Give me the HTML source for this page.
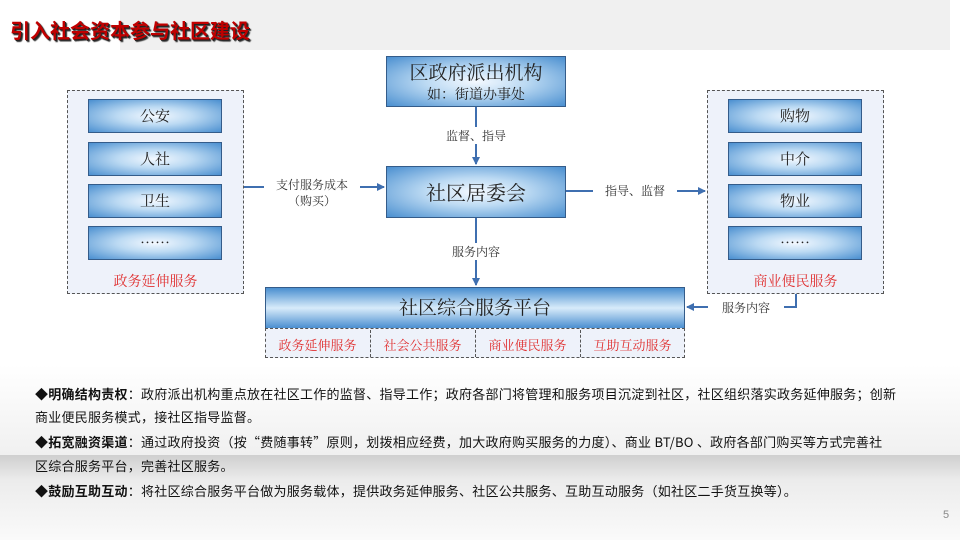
<!DOCTYPE html>
<html><head><meta charset="utf-8"><style>
*{margin:0;padding:0;box-sizing:border-box}
body{width:960px;height:540px;overflow:hidden;position:relative;background:#fff;font-family:"Liberation Sans","Noto Sans CJK SC",sans-serif}
.a{position:absolute}
.bg1{left:120px;top:0;width:830px;height:50px;background:#f0f0f0}
.floor{left:0;top:455px;width:960px;height:85px;background:linear-gradient(#cfcfcf,#ececec 30%,#fafafa)}
.band{left:0;top:365px;width:960px;height:90px;background:linear-gradient(#fff,#f0f0f0)}
.dia{left:62px;top:52px;width:842px;height:315px;background:#fff}
.title{left:10px;top:15px;font-size:20px;font-weight:bold;color:#c00000;text-shadow:1px 1px 0 #222,2px 2px 1px #333}
.dash{border:1.5px dashed #555;background:#eef2fa}
.box{background:radial-gradient(ellipse at center,#f4f9ff 0%,#bcdaf3 40%,#4a8fd0 100%);border:1.5px solid #345c8a;color:#222;text-align:center;font-family:"Noto Serif CJK SC","Noto Sans CJK SC",serif}
.sm{font-size:15px;line-height:31px}
.lbl{font-family:"Noto Serif CJK SC","Noto Sans CJK SC",serif;font-size:12px;color:#333;background:#fff;text-align:center}
.red{color:#e03030;font-family:"Noto Serif CJK SC","Noto Sans CJK SC",serif;font-size:13px}
.txt{left:35px;font-size:13px;color:#111;white-space:nowrap;letter-spacing:0.25px;font-family:"Noto Sans CJK SC",sans-serif}
.txt b{font-weight:bold}
</style></head><body>
<div class="a bg1"></div>
<div class="a band"></div>
<div class="a floor"></div>
<div class="a dia"></div>
<div class="a title">引入社会资本参与社区建设</div>

<div class="a dash" style="left:67px;top:90px;width:177px;height:204px"></div>
<div class="a box sm" style="left:88px;top:99px;width:134px;height:34px">公安</div>
<div class="a box sm" style="left:88px;top:142px;width:134px;height:34px">人社</div>
<div class="a box sm" style="left:88px;top:184px;width:134px;height:34px">卫生</div>
<div class="a box sm" style="left:88px;top:226px;width:134px;height:34px">……</div>
<div class="a red" style="left:67px;top:271px;width:177px;text-align:center;font-size:14px">政务延伸服务</div>

<div class="a dash" style="left:707px;top:90px;width:177px;height:204px"></div>
<div class="a box sm" style="left:728px;top:99px;width:134px;height:34px">购物</div>
<div class="a box sm" style="left:728px;top:142px;width:134px;height:34px">中介</div>
<div class="a box sm" style="left:728px;top:184px;width:134px;height:34px">物业</div>
<div class="a box sm" style="left:728px;top:226px;width:134px;height:34px">……</div>
<div class="a red" style="left:707px;top:271px;width:177px;text-align:center;font-size:14px">商业便民服务</div>

<div class="a box" style="left:386px;top:56px;width:180px;height:51px">
<div style="font-size:19px;line-height:26px;margin-top:2px">区政府派出机构</div>
<div style="font-size:14px;line-height:18px">如：街道办事处</div></div>
<div class="a box" style="left:386px;top:166px;width:180px;height:52px;font-size:20px;line-height:49px">社区居委会</div>

<div class="a box" style="left:265px;top:287px;width:420px;height:42px;font-size:19px;line-height:38px;background:linear-gradient(#4a8fd0,#d8ebfa 50%,#4a8fd0)">社区综合服务平台</div>
<div class="a dash" style="left:265px;top:328px;width:420px;height:30px;background:#eef2fa"></div>
<div class="a red" style="left:265px;top:335px;width:105px;text-align:center">政务延伸服务</div>
<div class="a red" style="left:370px;top:335px;width:105px;text-align:center">社会公共服务</div>
<div class="a red" style="left:475px;top:335px;width:105px;text-align:center">商业便民服务</div>
<div class="a red" style="left:580px;top:335px;width:105px;text-align:center">互助互动服务</div>
<div class="a" style="left:370px;top:330px;height:27px;border-left:1.5px dashed #555"></div>
<div class="a" style="left:475px;top:330px;height:27px;border-left:1.5px dashed #555"></div>
<div class="a" style="left:580px;top:330px;height:27px;border-left:1.5px dashed #555"></div>

<svg class="a" style="left:0;top:0" width="960" height="540">
<defs><marker id="m" markerWidth="8" markerHeight="8" refX="7" refY="4" orient="auto" markerUnits="userSpaceOnUse"><path d="M0,0 L8,4 L0,8 Z" fill="#3f6fb0"/></marker></defs>
<g stroke="#3f6fb0" stroke-width="2" fill="none">
<line x1="476" y1="107" x2="476" y2="164" marker-end="url(#m)"/>
<line x1="476" y1="218" x2="476" y2="285" marker-end="url(#m)"/>
<polyline points="244,187 264,187"/>
<line x1="360" y1="187" x2="384" y2="187" marker-end="url(#m)"/>
<line x1="566" y1="191" x2="705" y2="191" marker-end="url(#m)"/>
<polyline points="796,294 796,307 784,307"/>
<line x1="710" y1="307" x2="687" y2="307" marker-end="url(#m)"/>
</g></svg>
<div class="a lbl" style="left:436px;top:127px;width:80px">监督、指导</div>
<div class="a lbl" style="left:436px;top:243px;width:80px">服务内容</div>
<div class="a lbl" style="left:264px;top:177px;width:96px;line-height:16px;background:none">支付服务成本<br>（购买）</div>
<div class="a lbl" style="left:593px;top:182px;width:84px">指导、监督</div>
<div class="a lbl" style="left:708px;top:299px;width:76px">服务内容</div>

<div class="a txt" style="top:384px">◆<b>明确结构责权</b>：政府派出机构重点放在社区工作的监督、指导工作；政府各部门将管理和服务项目沉淀到社区，社区组织落实政务延伸服务；创新</div>
<div class="a txt" style="top:407px">商业便民服务模式，接社区指导监督。</div>
<div class="a txt" style="top:432px">◆<b>拓宽融资渠道</b>：通过政府投资（按“费随事转”原则，划拨相应经费，加大政府购买服务的力度）、商业 BT/BO 、政府各部门购买等方式完善社</div>
<div class="a txt" style="top:456px">区综合服务平台，完善社区服务。</div>
<div class="a txt" style="top:481px">◆<b>鼓励互助互动</b>：将社区综合服务平台做为服务载体，提供政务延伸服务、社区公共服务、互助互动服务（如社区二手货互换等）。</div>
<div class="a" style="left:943px;top:509px;font-size:11px;color:#888">5</div>
</body></html>
